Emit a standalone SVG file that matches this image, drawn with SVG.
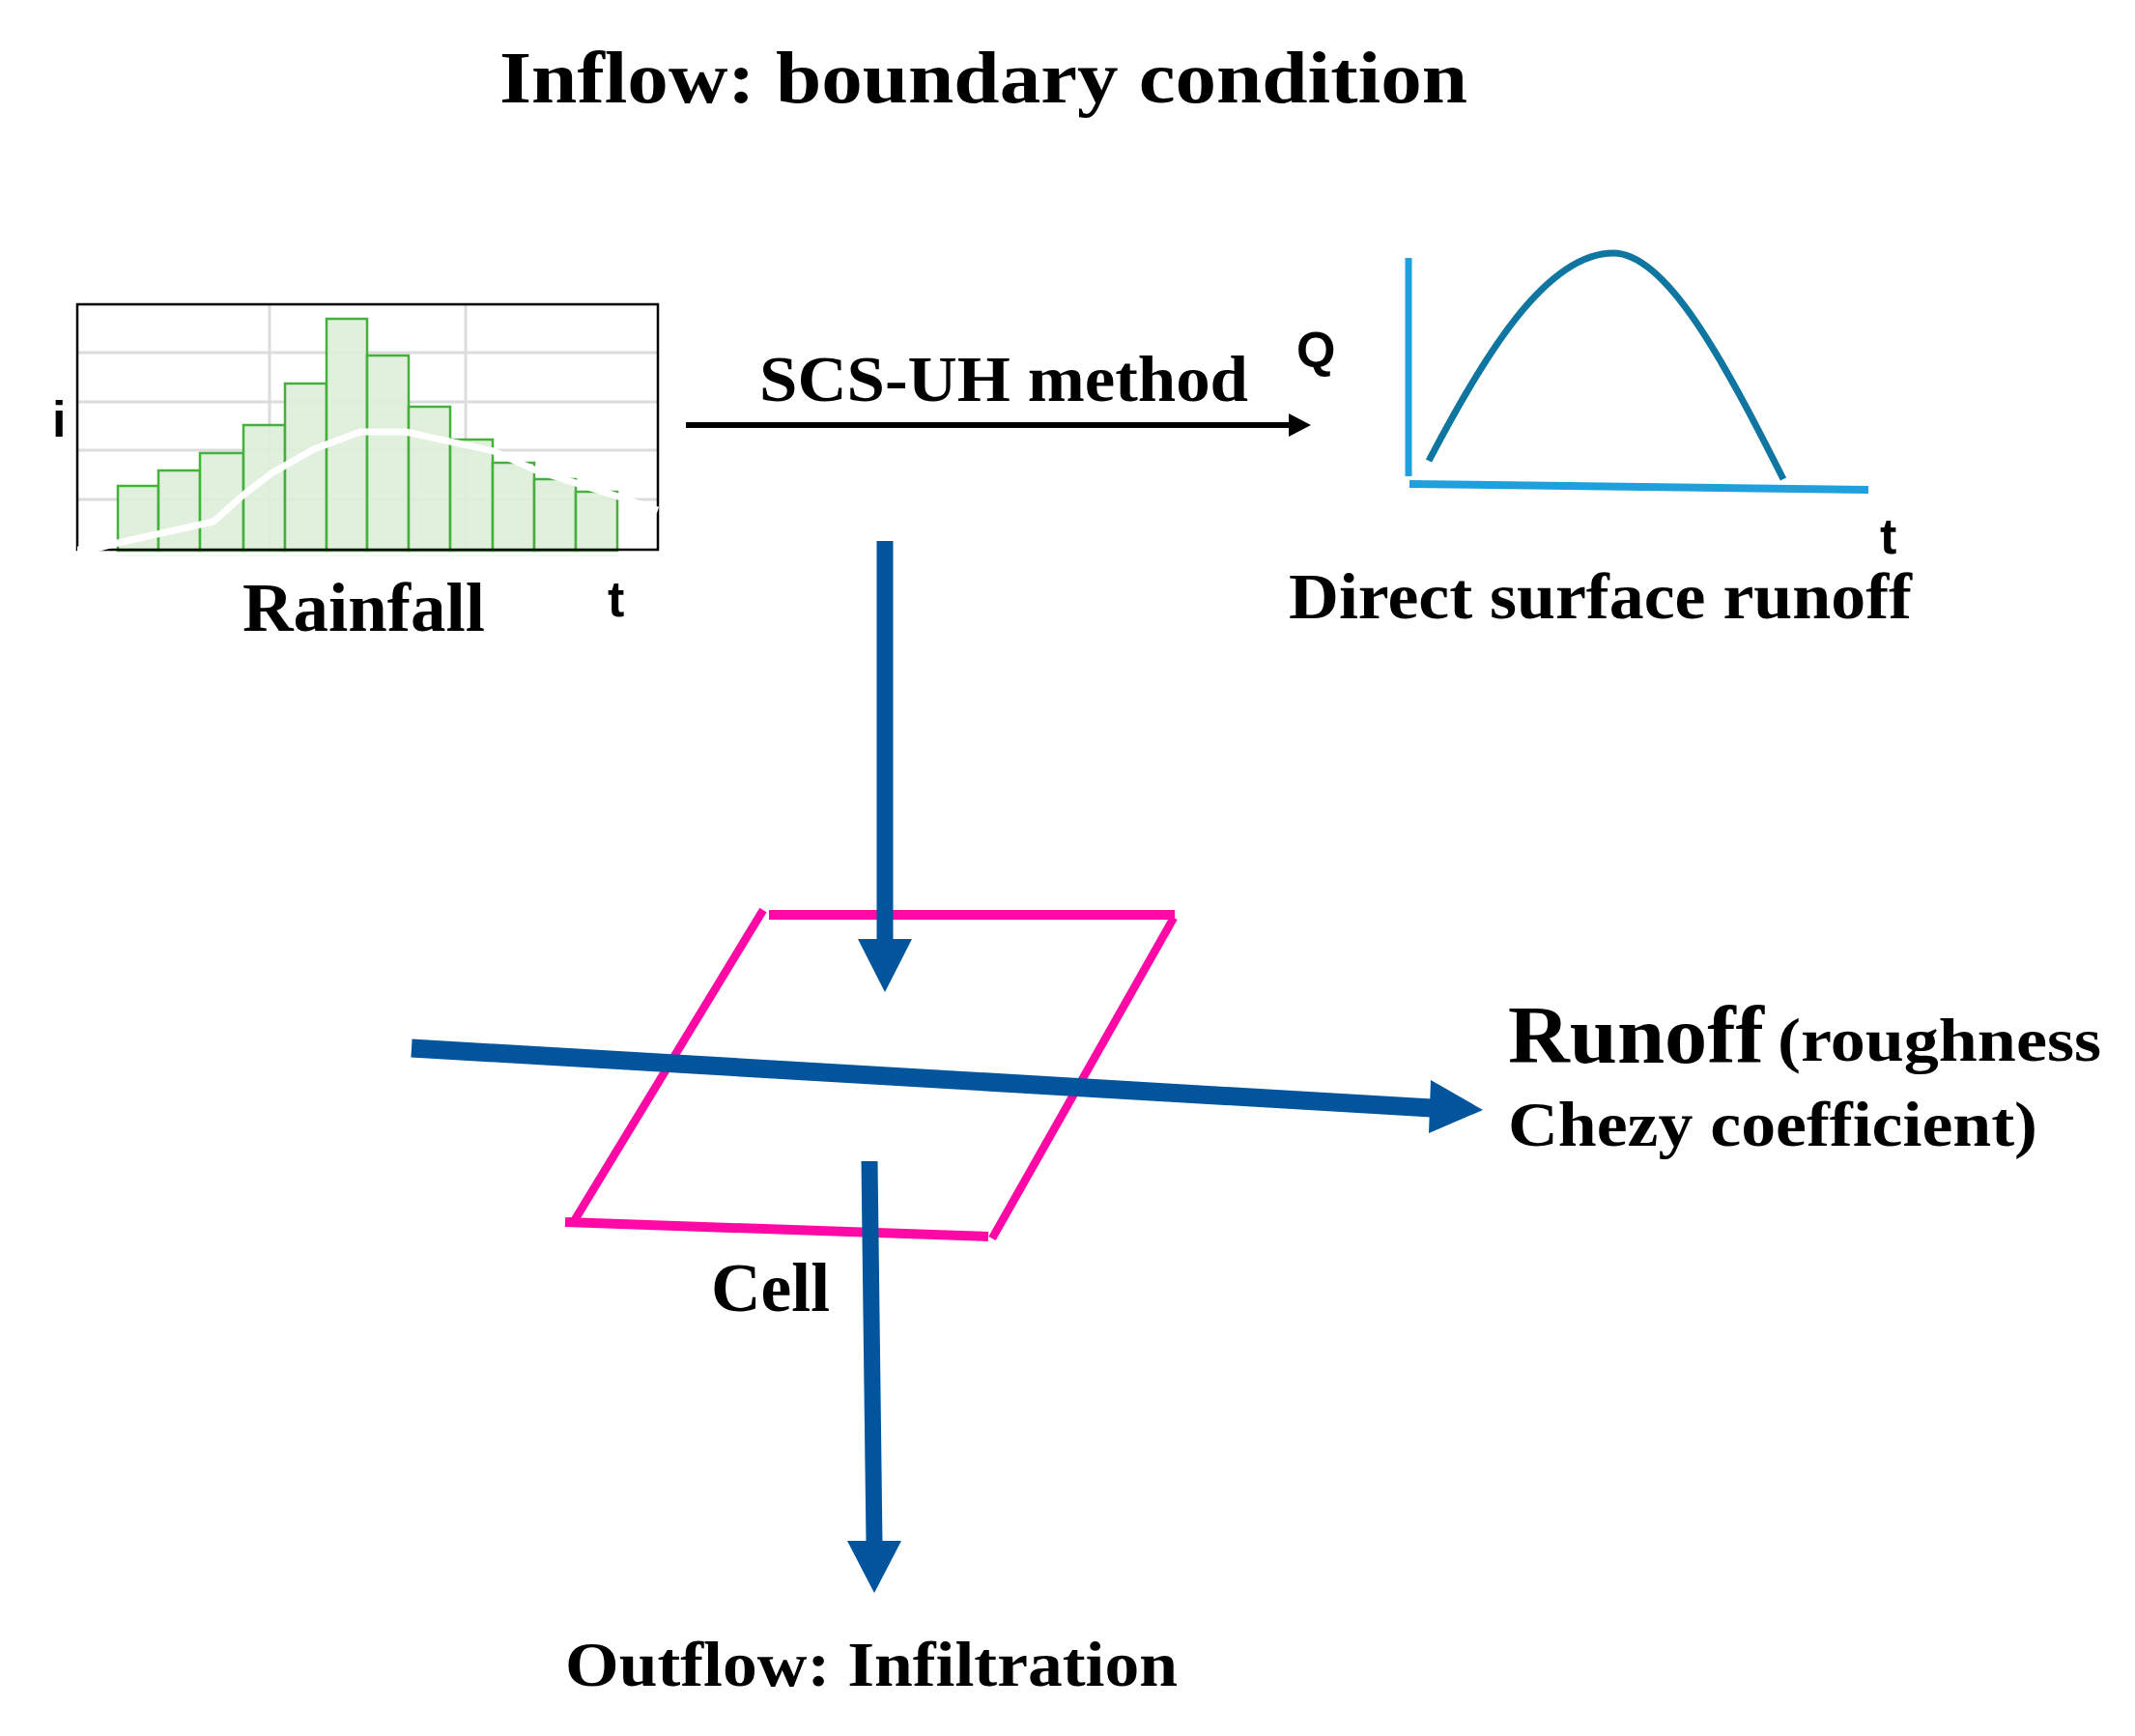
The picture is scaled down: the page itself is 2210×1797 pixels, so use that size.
<svg xmlns="http://www.w3.org/2000/svg" width="2210" height="1797" viewBox="0 0 2210 1797">
<style>
.s{font-family:"Liberation Serif","Times New Roman",serif;font-weight:bold;fill:#000}
.a{font-family:"Liberation Sans",Arial,sans-serif;font-weight:bold;fill:#000;font-size:52px}
.g{stroke:#dcdcdc;stroke-width:3;fill:none}
.b{fill:#deeed8;stroke:#46b03c;stroke-width:2.5}
.p{stroke:#ff09a6;fill:none}
.c{stroke:#1f9fdb;fill:none}
.bl{stroke:#02559d;fill:none}
.h{fill:#02559d}
</style>
<rect width="2210" height="1797" fill="#fff"/>
<text id="title" class="s" x="517" y="106" font-size="77" textLength="1002" lengthAdjust="spacingAndGlyphs">Inflow: boundary condition</text>
<g id="rainfall-chart">
<rect x="80" y="315" width="601" height="254" fill="#fff"/>
<path class="g" d="M279 315V569M482 315V569M80 365H681M80 416H681M80 466H681M80 517H681"/>
<g fill-opacity="0.9">
<rect class="b" x="122" y="503" width="42" height="67"/>
<rect class="b" x="164" y="487" width="43" height="83"/>
<rect class="b" x="207" y="469" width="45" height="101"/>
<rect class="b" x="252" y="440" width="43" height="130"/>
<rect class="b" x="295" y="397" width="43" height="173"/>
<rect class="b" x="338" y="330" width="42" height="240"/>
<rect class="b" x="380" y="368" width="43" height="202"/>
<rect class="b" x="423" y="421" width="43" height="149"/>
<rect class="b" x="466" y="455" width="44" height="115"/>
<rect class="b" x="510" y="479" width="43" height="91"/>
<rect class="b" x="553" y="496" width="43" height="74"/>
<rect class="b" x="596" y="509" width="43" height="61"/>
</g>
<rect x="80" y="315" width="601" height="254" fill="none" stroke="#000" stroke-width="2.5"/>
<path d="M80 569H95L122 562L221 540L251 513L281 490L325 465L373 447H420L511 467L555 487L637 513L681 528" fill="none" stroke="#fff" stroke-width="7"/>
<text id="label-i" class="a" x="54" y="452">i</text>
<text id="label-t1" class="a" x="629" y="638">t</text>
<text id="label-rainfall" class="s" x="251" y="653" font-size="71" textLength="251" lengthAdjust="spacingAndGlyphs">Rainfall</text>
</g>
<g id="runoff-chart">
<path class="c" stroke-width="7" d="M1458 267V493"/>
<path class="c" stroke-width="8" d="M1459 501L1934 507"/>
<path d="M1479 477C1535 370 1600 262 1670 262C1725 262 1785 375 1846 496" fill="none" stroke="#0f76a2" stroke-width="7"/>
<text id="label-q" class="a" x="1342" y="380">Q</text>
<text id="label-t2" class="a" x="1946" y="573">t</text>
<text id="label-direct" class="s" x="1334" y="640" font-size="68" textLength="645" lengthAdjust="spacingAndGlyphs">Direct surface runoff</text>
</g>
<g id="cell">
<path class="p" stroke-width="10" d="M796 947H1216"/>
<path class="p" stroke-width="8.5" d="M790 942L593 1266M1215 950L1027 1282"/>
<path class="p" stroke-width="10" d="M585 1265L1023 1280"/>
<text id="label-cell" class="s" x="736" y="1357" font-size="71" textLength="123" lengthAdjust="spacingAndGlyphs">Cell</text>
</g>
<g id="connectors">
<path d="M710 440H1336" stroke="#000" stroke-width="6" fill="none"/>
<path d="M1334 428L1357 440L1334 452Z" fill="#000"/>
<path class="bl" stroke-width="17" d="M916 560V975"/>
<path class="h" d="M888 972H944L916 1027Z"/>
<path class="bl" stroke-width="19" d="M426 1085L1482 1147"/>
<path class="h" d="M1481 1118L1535 1149L1479 1173Z"/>
<path class="bl" stroke-width="17" d="M900 1202L905 1598"/>
<path class="h" d="M877 1595H933L905 1649Z"/>
</g>
<g id="labels">
<text id="label-method" class="s" x="786" y="415" font-size="67" textLength="506" lengthAdjust="spacingAndGlyphs">SCS-UH method</text>
<text id="label-runoff" class="s" x="1561" y="1100" font-size="84" textLength="265" lengthAdjust="spacingAndGlyphs">Runoff</text>
<text id="label-roughness" class="s" x="1840" y="1098" font-size="64" textLength="335" lengthAdjust="spacingAndGlyphs">(roughness</text>
<text id="label-chezy" class="s" x="1561" y="1186" font-size="66" textLength="548" lengthAdjust="spacingAndGlyphs">Chezy coefficient)</text>
<text id="label-outflow" class="s" x="585" y="1745" font-size="66" textLength="634" lengthAdjust="spacingAndGlyphs">Outflow: Infiltration</text>
</g>
</svg>
